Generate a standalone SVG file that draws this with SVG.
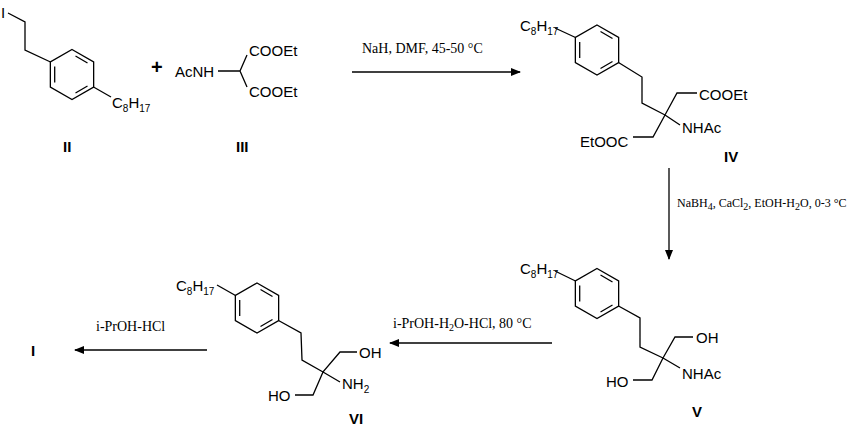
<svg xmlns="http://www.w3.org/2000/svg" xmlns:xlink="http://www.w3.org/1999/xlink" width="853" height="432" viewBox="0 0 853 432">
<style>
.b{fill:none;stroke:#000;stroke-width:1.3}
.t{font-family:"Liberation Sans",Arial,sans-serif;font-size:15px;fill:#000}
.c{font-family:"Liberation Serif","Times New Roman",serif;font-size:14px;fill:#000}
.l{font-family:"Liberation Sans",Arial,sans-serif;font-size:15px;font-weight:bold;fill:#000}
.s{font-size:10px}
</style>
<defs>
<g id="ring">
<path class="b" d="M0,-25 L21.65,-12.5 L21.65,12.5 L0,25 L-21.65,12.5 L-21.65,-12.5 Z M-17.3,-8 L-17.3,8 M3.5,-18.5 L15.5,-11.5 M15.5,11.5 L3.5,18.5"/>
</g>
<marker id="ah" markerWidth="10" markerHeight="8" refX="9" refY="4" orient="auto" markerUnits="userSpaceOnUse">
<path d="M0,0 L10,4 L0,8 Z" fill="#000"/>
</marker>
</defs>
<rect width="853" height="432" fill="#fff"/>

<g id="II">
<text class="t" x="1" y="18">I</text>
<path class="b" d="M8,13 L25,22 L25,50 L50.5,62"/>
<use xlink:href="#ring" x="72" y="74.5"/>
<path class="b" d="M93.5,87 L111,97"/>
<text class="t" x="112" y="108">C<tspan class="s" dy="4">8</tspan><tspan dy="-4">H</tspan><tspan class="s" dy="4">17</tspan></text>
<text class="l" x="63" y="152">II</text>
</g>

<text class="t" x="151" y="74" style="font-size:20px;font-weight:bold">+</text>

<g id="III">
<text class="t" x="175" y="77">AcNH</text>
<path class="b" d="M218,71 L240,71 M240,71 L247,55 M240,71 L247,87"/>
<text class="t" x="249" y="56">COOEt</text>
<text class="t" x="249" y="97">COOEt</text>
<text class="l" x="236" y="152">III</text>
</g>

<g id="IV">
<text class="t" x="520" y="31">C<tspan class="s" dy="4">8</tspan><tspan dy="-4">H</tspan><tspan class="s" dy="4">17</tspan></text>
<path class="b" d="M555,28 L575.5,37.5"/>
<use xlink:href="#ring" x="597" y="50"/>
<path class="b" d="M618.5,62.5 L642,77 L642,103 L665,115 L677,93 L697,93 M665,115 L680,125 M665,115 L653,137 L633,137"/>
<text class="t" x="699" y="100">COOEt</text>
<text class="t" x="682" y="133">NHAc</text>
<text class="t" x="580" y="147">EtOOC</text>
<text class="l" x="724" y="162">IV</text>
</g>

<g id="V">
<text class="t" x="520" y="274">C<tspan class="s" dy="4">8</tspan><tspan dy="-4">H</tspan><tspan class="s" dy="4">17</tspan></text>
<path class="b" d="M555,271 L575.5,281"/>
<use xlink:href="#ring" x="597" y="293.5"/>
<path class="b" d="M618.5,306 L640,318 L640,347 L663,358 L675,337 L693,337 M663,358 L680,368 M663,358 L652,380 L633,380"/>
<text class="t" x="696" y="343">OH</text>
<text class="t" x="682" y="379">NHAc</text>
<text class="t" x="606" y="387">HO</text>
<text class="l" x="692" y="417">V</text>
</g>

<g id="VI">
<text class="t" x="176" y="291">C<tspan class="s" dy="4">8</tspan><tspan dy="-4">H</tspan><tspan class="s" dy="4">17</tspan></text>
<path class="b" d="M217,285 L235.5,295.5"/>
<use xlink:href="#ring" x="257" y="308"/>
<path class="b" d="M278.5,320.5 L301,333 L302,360 L323,372 L340,352 L357,352 M323,372 L340,382 M323,372 L313,395 L295,395"/>
<text class="t" x="359" y="358">OH</text>
<text class="t" x="342" y="389">NH<tspan class="s" dy="4">2</tspan></text>
<text class="t" x="268" y="401">HO</text>
<text class="l" x="349" y="424">VI</text>
</g>

<text class="l" x="31" y="356">I</text>

<g id="connectors">
<path class="b" d="M352,72 L520,72" marker-end="url(#ah)"/>
<path class="b" d="M669,168 L669,259" marker-end="url(#ah)"/>
<path class="b" d="M552,343 L390,343" marker-end="url(#ah)"/>
<path class="b" d="M207,350 L75,350" marker-end="url(#ah)"/>
<text class="c" x="362" y="53">NaH, DMF, 45-50 °C</text>
<text class="c" x="677" y="207" style="font-size:12px">NaBH<tspan class="s" dy="3">4</tspan><tspan dy="-3">, CaCl</tspan><tspan class="s" dy="3">2</tspan><tspan dy="-3">, EtOH-H</tspan><tspan class="s" dy="3">2</tspan><tspan dy="-3">O, 0-3 °C</tspan></text>
<text class="c" x="393" y="328">i-PrOH-H<tspan class="s" dy="3">2</tspan><tspan dy="-3">O-HCl, 80 °C</tspan></text>
<text class="c" x="96" y="331">i-PrOH-HCl</text>
</g>
</svg>
